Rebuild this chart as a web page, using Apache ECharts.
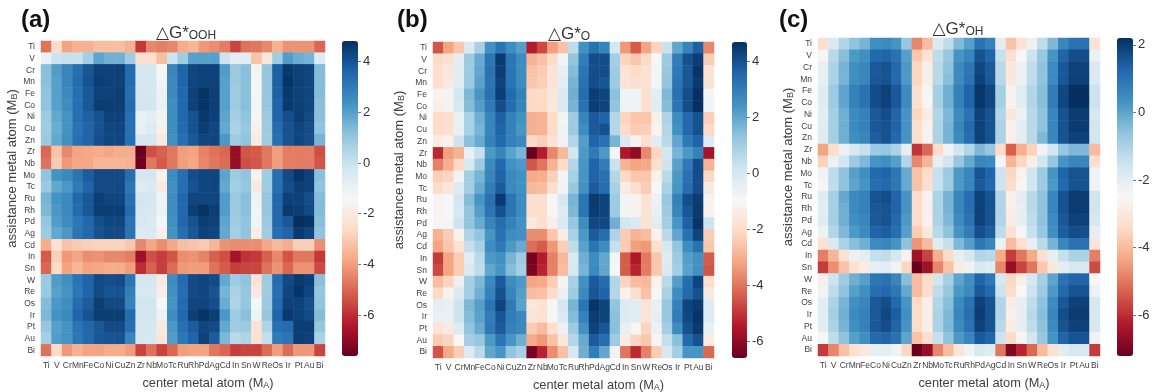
<!DOCTYPE html>
<html>
<head>
<meta charset="utf-8">
<style>html,body{margin:0;padding:0;background:#fff}#chart{width:1154px;height:392px}</style>
<script src="https://cdn.jsdelivr.net/npm/echarts@6/dist/echarts.min.js"></script>
</head>
<body>
<div id="chart"></div>
<script>
var metals = ['Ti','V','Cr','Mn','Fe','Co','Ni','Cu','Zn','Zr','Nb','Mo','Tc','Ru','Rh','Pd','Ag','Cd','In','Sn','W','Re','Os','Ir','Pt','Au','Bi'];
var rdBu = ['#67001f','#b2182b','#d6604d','#f4a582','#fddbc7','#f7f7f7','#d1e5f0','#92c5de','#4393c3','#2166ac','#053061'];

// rows follow MB from Ti to Bi, columns follow MA from Ti to Bi
var oohValues = [
[-4.8,-2.6,-3.9,-3.6,-3.6,-3.3,-3.3,-3.3,-3.6,-5.8,-4.4,-4.6,-4.4,-3.7,-3.5,-4.1,-4.3,-4.6,-5.6,-4.8,-4.7,-4.4,-3.6,-4.2,-4.2,-4.2,-5.0],
[-1.0,-0.1,0.0,0.0,0.7,1.9,1.6,1.6,0.8,-2.4,-2.4,-3.3,-0.1,0.8,2.0,2.0,2.0,-0.1,-0.8,-0.7,-3.2,-2.1,0.8,2.1,1.7,1.5,-0.6],
[1.2,2.1,2.7,3.3,3.9,4.4,4.4,4.4,3.4,-0.3,-0.3,-1.3,2.7,3.6,4.3,4.4,4.4,2.1,0.9,1.2,-1.6,1.0,3.7,4.6,4.4,4.3,1.3],
[1.2,2.0,2.7,3.4,4.0,4.5,4.4,4.4,3.4,-0.3,-0.3,-1.2,2.6,3.6,4.3,4.4,4.4,2.0,0.9,1.2,-1.3,1.0,3.7,4.7,4.4,4.3,1.3],
[1.1,2.0,2.6,3.3,3.9,4.4,4.4,4.5,3.3,-0.2,-0.3,-1.0,2.6,3.5,4.4,4.7,4.5,2.0,0.8,1.2,-1.3,1.0,3.7,4.6,4.4,4.3,1.3],
[1.1,2.0,2.5,3.3,3.9,4.5,4.5,4.5,3.4,-0.2,-0.2,-1.0,2.5,3.5,4.4,4.7,4.5,2.0,0.8,1.2,-1.2,1.0,3.6,4.6,4.4,4.3,1.2],
[0.8,1.8,2.3,3.3,3.7,4.0,4.4,4.4,3.3,-0.9,-0.8,-1.2,2.5,3.5,4.0,4.6,4.4,1.9,0.7,1.1,-1.3,0.9,3.6,4.1,4.5,4.2,1.2],
[0.8,1.7,2.3,3.2,3.6,4.0,4.3,4.3,3.3,-0.9,-0.6,-1.7,2.5,3.4,4.0,4.5,4.3,1.8,0.6,1.0,-1.7,0.8,3.4,4.0,4.3,4.1,1.1],
[0.9,1.8,2.4,3.3,3.6,4.1,4.3,4.3,3.3,-0.3,-0.3,-2.0,2.4,3.3,3.9,4.3,4.3,2.2,0.8,1.1,-1.9,0.8,3.3,4.0,4.3,4.1,1.5],
[-5.0,-3.2,-4.4,-3.9,-3.8,-3.7,-3.8,-3.7,-3.7,-7.6,-5.4,-5.1,-4.7,-4.0,-3.9,-4.5,-4.8,-5.0,-6.8,-5.3,-5.2,-4.7,-4.0,-4.6,-4.6,-4.6,-5.4],
[-4.8,-3.0,-4.1,-3.8,-3.8,-3.5,-3.5,-3.5,-3.6,-7.5,-4.7,-5.2,-4.7,-4.0,-3.8,-4.4,-4.7,-4.9,-6.8,-5.4,-5.3,-4.7,-4.0,-4.6,-4.6,-4.6,-5.3],
[1.1,2.3,2.6,3.2,3.8,4.2,4.2,4.2,3.3,-0.3,-0.3,-1.6,2.5,3.3,4.1,4.3,4.3,1.9,0.8,1.1,-1.6,0.8,3.3,4.2,4.7,4.4,1.2],
[0.9,1.8,2.2,3.0,3.6,4.2,4.2,4.2,3.1,-0.6,-0.5,-2.0,2.4,3.3,4.0,4.3,4.3,1.8,0.7,1.0,-2.0,0.8,3.3,4.1,4.5,4.4,1.1],
[1.5,2.3,2.6,3.5,3.9,4.5,4.3,4.3,3.3,-0.2,-0.3,-1.1,2.5,3.5,4.3,4.3,4.3,2.1,0.9,1.2,-1.1,1.0,3.5,4.4,4.4,4.1,1.3],
[1.4,2.2,2.6,3.4,3.9,4.5,4.5,4.5,3.4,-0.3,-0.4,-1.0,2.5,3.5,4.5,4.7,4.5,2.1,0.9,1.2,-1.2,1.0,3.5,4.6,4.5,4.2,1.3],
[1.0,2.1,2.5,3.1,3.5,4.1,4.3,4.3,3.2,-0.4,-0.5,-1.3,2.4,3.5,4.0,4.5,4.4,1.9,0.8,1.1,-1.2,0.9,3.5,3.9,4.8,4.7,1.2],
[0.9,1.8,2.2,3.2,3.5,4.0,4.2,4.2,3.2,-0.6,-0.5,-1.8,2.3,3.3,3.9,4.4,4.3,1.8,0.7,1.1,-1.9,0.8,3.3,3.6,4.6,4.3,1.1],
[-3.7,-2.4,-3.2,-3.0,-2.9,-2.8,-2.8,-2.8,-3.1,-4.4,-3.8,-4.3,-3.8,-3.3,-3.2,-3.0,-3.5,-4.2,-4.3,-4.3,-4.3,-3.8,-3.4,-3.7,-2.9,-2.9,-4.3],
[-5.2,-2.9,-4.1,-3.9,-4.3,-4.2,-4.4,-4.4,-4.6,-6.7,-5.4,-5.7,-5.3,-4.3,-4.2,-4.5,-5.1,-5.4,-6.6,-5.9,-5.8,-5.1,-4.4,-5.3,-4.7,-4.7,-5.8],
[-5.0,-2.6,-3.9,-3.5,-3.9,-3.8,-3.7,-3.7,-4.0,-6.0,-5.1,-5.7,-4.9,-4.1,-4.0,-4.0,-4.8,-5.2,-5.7,-5.6,-5.6,-4.8,-4.2,-5.0,-4.2,-4.2,-5.5],
[0.9,2.1,2.4,3.2,3.6,4.2,4.1,4.2,3.2,-0.3,-0.3,-2.0,2.5,3.4,4.2,4.3,4.2,1.8,0.8,1.1,-2.3,0.8,3.4,4.2,4.6,4.4,1.2],
[0.9,2.0,2.3,3.1,3.6,4.2,4.0,4.0,2.9,-0.4,-0.4,-1.9,2.4,3.3,4.2,4.3,4.0,1.5,0.6,1.0,-2.0,0.8,3.3,4.3,4.7,4.3,1.0],
[1.3,2.2,2.5,3.4,3.8,4.5,4.2,4.2,2.8,-0.2,-0.2,-1.3,2.3,3.4,4.3,4.3,4.1,1.7,0.5,1.0,-1.3,0.9,3.4,4.4,4.4,4.1,1.1],
[1.4,2.3,2.6,3.6,4.0,4.5,4.5,4.5,3.4,-0.2,-0.2,-1.0,2.5,3.5,4.5,4.7,4.5,2.2,0.8,1.2,-1.1,1.0,3.6,4.6,4.4,4.2,1.3],
[1.0,2.0,2.3,3.2,3.5,3.9,4.2,4.2,3.3,-0.3,-0.3,-2.0,2.2,3.3,3.8,4.3,4.2,1.8,0.8,0.9,-2.3,0.5,3.3,3.4,4.5,4.5,1.0],
[0.7,2.1,2.3,3.1,3.5,3.9,4.0,4.0,2.7,-0.3,-0.4,-2.1,2.1,3.1,3.6,4.4,3.8,1.4,0.3,0.5,-2.3,0.1,3.0,3.2,4.5,4.4,0.6],
[-4.8,-2.6,-4.1,-3.6,-3.9,-3.9,-3.7,-3.7,-4.0,-5.6,-4.8,-5.6,-5.0,-4.0,-3.9,-3.9,-4.7,-5.0,-5.7,-5.6,-5.6,-4.9,-4.0,-4.9,-4.1,-4.1,-5.6]
];

var oValues = [
[-4.5,-3.2,-2.5,-0.1,0.9,2.5,3.2,2.6,2.2,-5.4,-4.7,-3.3,-2.6,0.5,2.5,3.3,2.8,0.0,-3.4,-4.4,-3.2,-2.2,0.3,2.0,2.8,3.7,-3.7],
[-2.0,-1.9,-0.4,1.1,1.9,3.2,4.5,3.2,2.6,-2.9,-2.6,-2.0,-0.8,1.3,3.0,4.1,4.1,1.0,-2.2,-2.5,-2.0,-0.9,1.1,3.0,4.0,4.4,-2.4],
[-1.9,-1.6,-0.3,1.1,2.0,3.3,4.4,3.2,2.6,-2.6,-2.4,-1.7,-0.5,1.5,3.2,4.1,4.1,1.1,-1.8,-2.0,-1.8,-0.8,1.2,3.1,3.9,4.6,-1.7],
[-1.9,-1.5,-0.3,1.1,2.1,3.2,4.3,3.2,2.6,-2.5,-2.3,-1.7,-0.4,1.7,3.3,4.1,3.9,1.1,-1.7,-1.9,-1.8,-0.8,1.3,3.2,3.9,4.5,-1.8],
[-1.2,-0.8,0.1,1.6,2.4,3.3,4.4,3.5,2.9,-2.1,-2.0,-1.6,-0.1,1.8,3.4,4.4,4.3,1.4,-0.7,-0.7,-1.9,-0.3,1.6,3.3,4.1,4.7,-0.8],
[-1.3,-1.2,0.0,1.5,2.2,3.1,4.1,3.4,2.8,-2.1,-2.1,-1.6,-0.1,1.7,3.3,4.4,4.3,1.3,-0.7,-0.7,-1.9,-0.3,1.5,3.2,4.1,4.7,-0.8],
[-2.0,-1.9,-0.5,0.9,1.8,2.8,3.7,2.9,2.5,-3.0,-2.9,-2.0,-0.8,1.1,2.8,3.8,3.6,0.7,-2.2,-2.5,-2.5,-1.3,0.8,2.6,3.5,4.0,-2.3],
[-2.0,-1.9,-0.5,0.9,1.7,2.8,3.6,2.9,2.4,-3.0,-2.9,-2.0,-0.7,1.1,2.6,3.8,4.0,0.7,-2.0,-2.4,-2.3,-1.1,0.7,2.5,3.5,4.0,-2.1],
[-1.4,-1.2,0.2,1.4,1.9,2.9,3.5,2.9,2.7,-2.1,-2.3,-1.8,-0.7,0.7,2.2,3.6,3.3,1.7,-0.1,-1.1,-1.9,-0.3,0.6,2.0,3.1,3.6,-0.2],
[-5.2,-3.3,-2.9,-0.5,0.4,2.3,2.8,2.1,1.7,-6.6,-5.4,-3.7,-2.8,0.1,2.3,3.1,2.3,-0.8,-5.5,-6.0,-3.7,-2.2,0.1,1.7,2.3,2.9,-5.7],
[-3.8,-3.0,-2.1,0.0,1.1,2.7,3.5,2.5,2.3,-4.5,-4.0,-2.9,-2.0,0.7,2.4,3.6,3.0,0.3,-2.9,-3.2,-3.1,-1.9,0.2,2.1,3.1,4.1,-2.9],
[-2.3,-2.2,-0.7,1.0,1.7,2.8,3.6,2.7,2.5,-3.1,-3.0,-2.3,-0.8,0.9,2.4,3.6,3.3,0.7,-2.1,-2.5,-2.5,-1.2,0.6,2.3,3.3,4.1,-2.1],
[-2.0,-1.6,-0.2,1.0,1.9,3.0,3.8,2.7,2.5,-2.8,-2.7,-1.9,-0.7,1.2,2.5,3.8,3.4,0.9,-1.4,-1.9,-2.4,-0.9,0.9,2.4,3.4,4.1,-1.5],
[-1.1,-0.9,0.1,1.5,2.4,3.3,4.5,3.2,2.6,-1.9,-1.9,-1.0,0.0,1.7,3.2,4.5,4.3,1.1,-0.8,-1.1,-1.8,-0.6,1.2,2.9,4.1,4.4,-1.2],
[-1.1,-0.9,0.0,1.3,2.2,3.2,4.0,3.2,2.6,-1.9,-1.9,-1.0,-0.2,1.6,3.2,4.4,4.3,1.1,-0.8,-1.1,-1.8,-0.5,1.1,2.8,3.9,4.5,-1.2],
[-1.0,-0.8,0.2,1.3,1.9,2.8,3.4,2.9,2.5,-1.5,-1.9,-1.3,-0.1,1.2,2.6,4.2,4.2,1.8,0.1,-0.1,-1.8,-0.3,1.0,2.4,3.7,4.6,0.2],
[-2.9,-2.4,-1.2,0.8,1.3,2.4,3.3,2.6,2.5,-3.6,-3.6,-2.5,-1.4,0.9,2.3,3.8,3.4,0.8,-2.4,-2.9,-2.7,-1.2,0.6,2.0,3.3,4.3,-2.4],
[-3.2,-2.5,-1.8,0.4,0.9,2.6,3.1,2.3,1.9,-4.1,-4.4,-3.4,-2.3,0.5,2.1,3.2,2.6,0.4,-2.4,-3.3,-3.4,-1.9,0.0,1.3,2.6,3.3,-2.5],
[-4.9,-3.2,-2.4,-0.3,0.6,2.3,2.5,1.7,1.1,-6.4,-5.4,-3.8,-2.8,-0.1,1.8,2.6,2.0,-0.8,-4.4,-5.5,-3.9,-2.5,-0.2,1.1,2.2,2.5,-4.4],
[-4.7,-3.2,-2.4,-0.1,0.5,2.0,2.4,1.5,1.0,-6.3,-5.3,-3.8,-2.7,0.0,1.7,2.7,2.0,-0.9,-4.4,-5.3,-3.9,-2.5,-0.1,1.0,2.1,2.5,-4.5],
[-2.7,-2.2,-0.6,1.0,1.6,2.7,3.8,2.6,2.3,-3.2,-3.1,-2.4,-1.1,0.9,2.5,3.8,3.4,0.7,-2.2,-2.7,-2.8,-1.2,0.6,2.2,3.4,4.3,-1.9],
[-2.1,-1.2,-0.1,1.0,1.8,2.9,4.0,2.8,2.2,-2.7,-2.6,-2.0,-0.5,1.1,2.7,3.9,3.6,0.7,-1.2,-1.9,-2.6,-0.9,0.9,2.6,3.5,4.0,-1.5],
[-0.4,-0.5,0.2,1.6,2.2,3.2,4.3,3.1,2.1,-1.6,-1.8,-0.9,0.1,1.7,3.2,4.6,4.3,1.3,-0.2,-0.3,-1.7,-0.5,1.2,2.9,4.3,4.5,-0.2],
[-0.5,-0.5,0.2,1.5,2.1,3.0,3.9,3.0,2.7,-1.7,-1.8,-0.9,-0.1,1.5,2.9,4.4,4.3,1.4,-0.2,-0.3,-1.7,-0.4,1.2,3.0,4.2,4.6,-0.2],
[-1.7,-1.5,-0.2,1.3,1.9,3.1,3.8,2.9,2.7,-2.4,-2.7,-1.9,-0.6,1.1,2.5,4.3,3.9,1.4,-0.5,-1.0,-2.2,-0.6,1.0,2.6,4.0,4.5,-0.5],
[-2.4,-2.2,-1.0,1.0,1.2,2.3,3.2,2.4,1.8,-3.1,-3.4,-2.6,-1.6,0.7,1.9,3.8,3.4,1.1,-1.4,-2.2,-2.5,-1.0,0.4,1.4,3.5,4.0,-1.4],
[-4.5,-3.1,-2.4,-0.2,0.6,2.0,2.4,1.3,0.9,-6.4,-5.3,-3.6,-2.6,0.0,1.8,3.0,2.0,-0.7,-4.0,-5.2,-3.8,-2.4,0.0,1.0,2.4,2.4,-4.2]
];

var ohValues = [
[-3.3,-1.8,-1.1,-0.6,-0.3,0.4,0.5,0.3,-0.7,-4.8,-4.0,-1.8,-1.3,-0.4,0.1,1.0,0.7,-2.0,-3.9,-3.2,-2.2,-1.3,-0.4,0.6,1.0,1.0,-3.2],
[-2.4,-1.2,-0.5,0.2,0.4,1.2,1.3,1.0,0.1,-3.8,-3.2,-1.3,-0.7,0.3,0.6,1.6,1.3,-1.4,-3.3,-2.5,-1.5,-0.7,0.3,1.3,1.7,1.7,-2.2],
[-2.1,-1.0,-0.3,0.4,0.6,1.5,1.6,1.2,0.2,-3.5,-2.8,-1.2,-0.6,0.5,0.9,1.8,1.5,-1.2,-3.0,-2.2,-1.3,-0.6,0.5,1.5,1.9,1.9,-1.8],
[-2.1,-1.0,-0.3,0.4,0.6,1.5,1.6,1.2,0.2,-3.5,-2.8,-1.2,-0.5,0.5,1.0,1.9,1.5,-1.2,-3.0,-2.2,-1.3,-0.6,0.5,1.5,1.9,1.9,-1.8],
[-1.9,-0.8,0.0,0.7,1.0,1.7,1.9,1.5,0.5,-3.3,-2.6,-0.9,-0.2,0.7,1.3,2.1,1.8,-0.9,-2.7,-1.9,-1.1,-0.5,0.8,1.8,2.2,2.2,-1.5],
[-1.9,-0.8,0.0,0.7,1.0,1.7,1.9,1.5,0.5,-3.3,-2.6,-0.9,-0.2,0.7,1.3,2.1,1.8,-0.9,-2.7,-1.9,-1.1,-0.5,0.8,1.8,2.2,2.2,-1.5],
[-2.0,-0.9,-0.2,0.5,0.7,1.5,1.7,1.3,0.3,-3.5,-2.9,-1.1,-0.4,0.5,1.0,1.9,1.6,-1.1,-3.0,-2.2,-1.2,-0.6,0.6,1.6,2.0,2.0,-1.7],
[-1.9,-0.9,-0.2,0.5,0.7,1.5,1.6,1.3,0.3,-3.3,-2.7,-1.0,-0.3,0.6,1.2,1.9,1.6,-1.0,-2.8,-2.0,-1.2,-0.6,0.6,1.6,2.0,2.0,-1.6],
[-1.9,-0.9,-0.2,0.4,0.6,1.4,1.6,1.2,0.3,-3.3,-2.7,-1.0,-0.3,0.5,1.1,1.9,1.6,-1.0,-2.8,-2.0,-1.2,-0.4,0.6,1.6,1.9,1.9,-1.6],
[-4.4,-3.4,-2.2,-1.7,-1.4,-0.8,-0.7,-1.0,-2.1,-5.9,-5.2,-3.4,-2.3,-1.6,-1.1,-0.4,-0.7,-3.4,-5.3,-4.2,-3.6,-2.3,-1.6,-0.7,-0.4,-0.4,-4.0],
[-3.6,-2.2,-1.6,-0.8,-0.4,0.3,0.4,0.1,-1.1,-4.8,-4.1,-2.1,-1.6,-0.7,-0.1,0.6,0.5,-2.4,-4.1,-3.5,-2.8,-1.6,-0.7,0.3,0.6,0.6,-3.3],
[-2.3,-1.3,-0.6,0.1,0.4,1.2,1.3,0.9,-0.1,-3.9,-3.4,-1.4,-0.8,0.2,0.6,1.6,1.3,-1.5,-3.5,-2.7,-1.6,-0.8,0.3,1.3,1.6,1.6,-2.3],
[-2.4,-1.3,-0.6,0.0,0.3,1.1,1.2,0.9,-0.1,-3.9,-3.3,-1.4,-0.8,0.2,0.6,1.5,1.2,-1.5,-3.4,-2.6,-1.6,-0.8,0.2,1.2,1.6,1.6,-2.3],
[-1.9,-0.9,-0.1,0.5,0.7,1.6,1.7,1.3,0.3,-3.4,-2.7,-1.0,-0.3,0.6,1.1,1.9,1.6,-1.1,-2.8,-2.0,-1.2,-0.6,0.6,1.6,2.0,2.0,-1.6],
[-2.0,-0.9,-0.2,0.5,0.7,1.5,1.6,1.3,0.3,-3.4,-2.8,-1.0,-0.3,0.6,1.1,1.9,1.6,-1.1,-2.8,-2.1,-1.2,-0.6,0.6,1.6,2.0,2.0,-1.6],
[-1.9,-0.9,-0.2,0.4,0.6,1.5,1.6,1.2,0.2,-3.4,-2.7,-1.0,-0.4,0.5,1.0,1.9,1.6,-1.1,-2.9,-2.1,-1.3,-0.6,0.5,1.5,1.9,1.9,-1.7],
[-2.2,-1.1,-0.4,0.2,0.5,1.3,1.4,1.1,0.1,-3.7,-3.0,-1.2,-0.6,0.3,0.8,1.7,1.4,-1.3,-3.2,-2.4,-1.4,-0.7,0.4,1.4,1.7,1.7,-2.1],
[-3.2,-1.8,-1.0,-0.5,-0.2,0.5,0.6,0.3,-0.6,-4.6,-4.0,-1.9,-1.4,-0.4,0.1,0.9,0.6,-2.2,-4.0,-3.3,-2.1,-1.2,-0.3,0.6,1.0,1.0,-3.1],
[-4.9,-4.1,-3.2,-2.2,-2.0,-1.4,-1.3,-1.7,-2.7,-6.5,-5.7,-4.2,-3.4,-2.1,-1.7,-1.1,-1.2,-4.3,-5.8,-5.0,-4.3,-3.3,-2.1,-1.4,-1.0,-1.0,-4.9],
[-5.8,-4.7,-3.9,-3.2,-2.9,-2.1,-2.0,-2.3,-3.5,-7.2,-6.5,-4.8,-3.9,-2.9,-2.3,-1.7,-1.9,-4.8,-6.6,-5.7,-5.0,-3.8,-3.0,-2.0,-1.7,-1.7,-5.6],
[-2.8,-1.5,-0.8,-0.2,0.1,0.9,1.0,0.6,-0.5,-4.0,-3.4,-1.6,-0.9,0.0,0.4,1.3,0.9,-1.7,-3.5,-2.8,-1.7,-0.9,0.0,1.0,1.3,1.3,-2.5],
[-2.3,-1.3,-0.6,0.1,0.4,1.1,1.2,0.9,-0.1,-4.0,-3.4,-1.3,-0.7,0.2,0.5,1.5,1.2,-1.5,-3.4,-2.5,-1.5,-0.8,0.2,1.2,1.6,1.6,-2.2],
[-2.0,-1.0,-0.3,0.4,0.6,1.5,1.7,1.2,0.3,-3.4,-2.8,-1.1,-0.5,0.5,1.0,1.9,1.6,-1.1,-2.9,-2.1,-1.3,-0.6,0.5,1.5,1.9,1.9,-1.7],
[-2.0,-0.9,-0.2,0.5,0.7,1.5,1.8,1.4,0.4,-3.4,-2.8,-1.0,-0.4,0.6,1.1,2.0,1.6,-1.1,-2.8,-2.1,-1.2,-0.5,0.6,1.7,2.0,2.0,-1.7],
[-2.0,-1.0,-0.3,0.4,0.7,1.5,1.7,1.3,0.3,-3.4,-2.8,-1.0,-0.4,0.5,1.0,1.9,1.6,-1.2,-2.9,-2.1,-1.3,-0.6,0.5,1.6,1.9,1.9,-1.7],
[-2.4,-1.3,-0.6,0.1,0.4,1.2,1.3,1.0,0.0,-3.9,-3.3,-1.4,-0.6,0.2,0.6,1.5,1.3,-1.5,-3.4,-2.6,-1.6,-0.7,0.3,1.3,1.6,1.6,-2.3],
[-5.8,-4.8,-3.9,-3.3,-3.0,-2.1,-2.0,-2.3,-3.5,-7.2,-6.6,-4.8,-4.0,-3.1,-2.3,-1.7,-1.9,-5.0,-6.9,-6.1,-5.2,-4.0,-3.2,-2.0,-1.7,-1.7,-5.8]
];

var barTicks = [-6, -4, -2, 0, 2, 4];
var barTicksOh = [-6, -4, -2, 0, 2];

var panels = [
	{ tag: '(a)', tagX: 16, sub: 'OOH', titleX: 181, titleY: 15, values: oohValues, min: -7.6, max: 4.8, ticks: barTicks, left: 41, top: 41, width: 284, height: 315, barLeft: 342, barWidth: 16, nameX: 21 },
	{ tag: '(b)', tagX: 392, sub: 'O', titleX: 564, titleY: 16, values: oValues, min: -6.6, max: 4.7, ticks: barTicks, left: 433, top: 42, width: 281, height: 316, barLeft: 732, barWidth: 15, nameX: 406 },
	{ tag: '(c)', tagX: 774, sub: 'OH', titleX: 953, titleY: 11, values: ohValues, min: -7.2, max: 2.2, ticks: barTicksOh, left: 818, top: 38, width: 282, height: 318, barLeft: 1117, barWidth: 16, nameX: 795 }
];

var labelColor = '#404040';
var grids = [], xAxes = [], yAxes = [], visualMaps = [], series = [], titles = [];

panels.forEach(function (p, i) {
	var cells = [];
	p.values.forEach(function (row, r) {
		row.forEach(function (v, c) {
			cells.push([c, r, v]);
		});
	});

	titles.push({
		text: p.tag, left: p.tagX, top: 3,
		textStyle: { fontFamily: 'Liberation Sans', fontSize: 24, fontWeight: 'bold', color: '#111' }
	});
	titles.push({
		text: '{g|△G*}{s|' + p.sub + '}', left: p.titleX, top: p.titleY, textAlign: 'center',
		textStyle: {
			fontWeight: 'normal',
			rich: {
				g: { fontFamily: 'Liberation Sans, DejaVu Sans', fontWeight: 'normal', fontSize: 17, color: '#333', lineHeight: 22, verticalAlign: 'bottom' },
				s: { fontFamily: 'Liberation Sans', fontWeight: 'normal', fontSize: 12, color: '#333', lineHeight: 22, verticalAlign: 'bottom', padding: [4, 0, 0, 0] }
			}
		}
	});

	// heatmap grid, then a thin grid beside it that only carries the colourbar ticks
	grids.push({ left: p.left, top: p.top, width: p.width, height: p.height, outerBoundsMode: 'none' });
	grids.push({ left: p.barLeft, top: p.top, width: p.barWidth, height: p.height, outerBoundsMode: 'none' });

	xAxes.push({
		type: 'category', gridIndex: i * 2, data: metals, position: 'bottom',
		name: '{n|center metal atom (M}{s|A}{n|)}', nameLocation: 'middle', nameGap: 21,
		nameTextStyle: { padding: [0, 0, 0, 50], rich: {
			n: { fontFamily: 'Liberation Sans', fontSize: 12.8, color: labelColor },
			s: { fontFamily: 'Liberation Sans', fontSize: 9, color: labelColor, padding: [4, 0, 0, 0] }
		} },
		axisLine: { show: false },
		axisTick: { alignWithLabel: true, length: 3, lineStyle: { color: '#555', width: 0.8 } },
		axisLabel: { interval: 0, hideOverlap: false, margin: 5, fontFamily: 'Liberation Sans', fontSize: 8.5, color: labelColor },
		splitLine: { show: false }
	});
	xAxes.push({
		type: 'category', gridIndex: i * 2 + 1, data: ['bar'], show: false
	});

	yAxes.push({
		type: 'category', gridIndex: i * 2, data: metals, inverse: true,
		name: '{n|assistance metal atom (M}{s|B}{n|)}', nameLocation: 'middle', nameRotate: 90, nameGap: p.left - p.nameX,
		nameTextStyle: { padding: [0, 0, 0, 60], rich: {
			n: { fontFamily: 'Liberation Sans', fontSize: 13, color: labelColor },
			s: { fontFamily: 'Liberation Sans', fontSize: 9, color: labelColor, padding: [4, 0, 0, 0] }
		} },
		axisLine: { show: false },
		axisTick: { alignWithLabel: true, length: 3, lineStyle: { color: '#555', width: 0.8 } },
		axisLabel: { interval: 0, hideOverlap: false, margin: 6, fontFamily: 'Liberation Sans', fontSize: 8.5, color: labelColor },
		splitLine: { show: false }
	});
	yAxes.push({
		type: 'value', gridIndex: i * 2 + 1, position: 'right', min: p.min, max: p.max,
		axisLine: { show: false },
		axisTick: { show: true, length: 3, customValues: p.ticks, lineStyle: { color: '#555', width: 0.8 } },
		axisLabel: { customValues: p.ticks, margin: 5, fontFamily: 'Liberation Sans', fontSize: 13, color: '#333' },
		splitLine: { show: false }
	});

	visualMaps.push({
		type: 'continuous', seriesIndex: i, min: p.min, max: p.max, calculable: false, hoverLink: false,
		left: p.barLeft, top: p.top, itemWidth: p.barWidth, itemHeight: p.height, padding: 0,
		text: ['', ''], showLabel: false, inRange: { color: rdBu }
	});

	series.push({
		type: 'heatmap', xAxisIndex: i * 2, yAxisIndex: i * 2, data: cells,
		progressive: 0, itemStyle: { borderWidth: 0 }, emphasis: { disabled: true }
	});
});

var chart = echarts.init(document.getElementById('chart'), null, { renderer: 'canvas' });
chart.setOption({
	animation: false,
	backgroundColor: '#fff',
	title: titles,
	grid: grids,
	xAxis: xAxes,
	yAxis: yAxes,
	visualMap: visualMaps,
	series: series
});
</script>
</body>
</html>
